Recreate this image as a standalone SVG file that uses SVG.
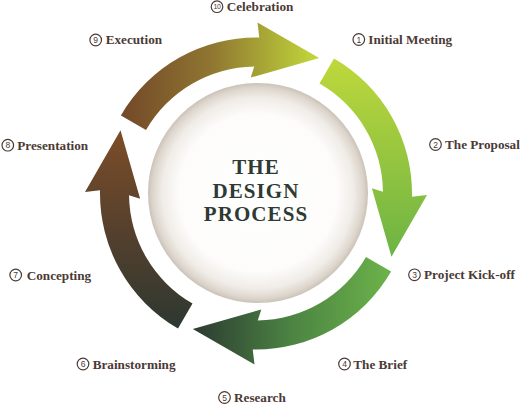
<svg xmlns="http://www.w3.org/2000/svg" xmlns:xlink="http://www.w3.org/1999/xlink" width="521" height="405" viewBox="0 0 521 405">
<defs>
  <linearGradient id="gTop" x1="0" y1="0" x2="0" y2="1">
    <stop offset="0" stop-color="#734828"/>
    <stop offset="0.45" stop-color="#8f7531"/>
    <stop offset="1" stop-color="#c2d93a"/>
  </linearGradient>
  <linearGradient id="gRight" x1="0" y1="0" x2="0" y2="1">
    <stop offset="0" stop-color="#bfd83b"/>
    <stop offset="1" stop-color="#6cb344"/>
  </linearGradient>
  <linearGradient id="gBottom" x1="0" y1="0" x2="0" y2="1">
    <stop offset="0" stop-color="#6cb34a"/>
    <stop offset="0.5" stop-color="#4c8443"/>
    <stop offset="1" stop-color="#2b3a31"/>
  </linearGradient>
  <linearGradient id="gLeft" x1="0" y1="0" x2="0" y2="1">
    <stop offset="0" stop-color="#2d3830"/>
    <stop offset="0.5" stop-color="#56402d"/>
    <stop offset="1" stop-color="#7c4d28"/>
  </linearGradient>
  <radialGradient id="gCircle" cx="0.5" cy="0.5" r="0.5">
    <stop offset="0" stop-color="#ffffff"/>
    <stop offset="0.72" stop-color="#fdfcfb"/>
    <stop offset="0.87" stop-color="#f0ece7"/>
    <stop offset="0.96" stop-color="#dcd5cc"/>
    <stop offset="1" stop-color="#cbc2b7"/>
  </radialGradient>
  <path id="arrow" d="M 334 58.4 A 156 156 0 0 1 411.97 196.77 L 426.99 194.99 L 391.49 256.68 L 371.88 188.24 L 382.99 191.73 A 127 127 0 0 0 319.5 83.5 Z"/>
</defs>
<style>
  .lbl { font-family: "Liberation Serif", "Times New Roman", serif; font-weight: bold; font-size: 13.2px; fill: #4b3a35; }
  .num { font-family: "Liberation Sans", Arial, sans-serif; font-size: 8.5px; fill: #4b3a35; text-anchor: middle; }
  .ring { fill: #ffffff; stroke: #4b3a35; stroke-width: 1.2; }
  .title { font-family: "Liberation Serif", "Times New Roman", serif; font-weight: bold; font-size: 21px; fill: #2e3a33; text-anchor: middle; letter-spacing: 1.1px; }
</style>
<rect x="0" y="0" width="521" height="405" fill="#ffffff"/>

<g id="connectors">
  <use href="#arrow" xlink:href="#arrow" fill="url(#gTop)" transform="rotate(-90 256 193.5)"/>
  <use href="#arrow" xlink:href="#arrow" fill="url(#gRight)"/>
  <use href="#arrow" xlink:href="#arrow" fill="url(#gBottom)" transform="rotate(90 256 193.5)"/>
  <use href="#arrow" xlink:href="#arrow" fill="url(#gLeft)" transform="rotate(180 256 193.5)"/>
</g>

<g id="center">
  <circle cx="258" cy="193" r="110" fill="url(#gCircle)"/>
  <text class="title" x="256" y="173.5">THE</text>
  <text class="title" x="256" y="197.5">DESIGN</text>
  <text class="title" x="256" y="221">PROCESS</text>
</g>

<g id="step1">
  <circle class="ring" cx="358.8" cy="39.5" r="5.8"/>
  <text class="num" x="358.8" y="42.5">1</text>
  <text class="lbl" x="368.3" y="44">Initial Meeting</text>
</g>
<g id="step2">
  <circle class="ring" cx="435.5" cy="144.5" r="5.8"/>
  <text class="num" x="435.5" y="147.5">2</text>
  <text class="lbl" x="445" y="149">The Proposal</text>
</g>
<g id="step3">
  <circle class="ring" cx="414.5" cy="274.8" r="5.8"/>
  <text class="num" x="414.5" y="277.8">3</text>
  <text class="lbl" x="424" y="279">Project Kick-off</text>
</g>
<g id="step4">
  <circle class="ring" cx="344.5" cy="364" r="5.8"/>
  <text class="num" x="344.5" y="367">4</text>
  <text class="lbl" x="353.3" y="368.5">The Brief</text>
</g>
<g id="step5">
  <circle class="ring" cx="224.5" cy="397.5" r="5.8"/>
  <text class="num" x="224.5" y="400.5">5</text>
  <text class="lbl" x="234" y="402">Research</text>
</g>
<g id="step6">
  <circle class="ring" cx="83" cy="364" r="5.8"/>
  <text class="num" x="83" y="367">6</text>
  <text class="lbl" x="92.7" y="368.5">Brainstorming</text>
</g>
<g id="step7">
  <circle class="ring" cx="15.7" cy="275" r="5.8"/>
  <text class="num" x="15.7" y="278">7</text>
  <text class="lbl" x="26.7" y="279.5">Concepting</text>
</g>
<g id="step8">
  <circle class="ring" cx="7.8" cy="145.2" r="5.8"/>
  <text class="num" x="7.8" y="148.2">8</text>
  <text class="lbl" x="17.3" y="149.5">Presentation</text>
</g>
<g id="step9">
  <circle class="ring" cx="95.7" cy="40" r="5.8"/>
  <text class="num" x="95.7" y="43">9</text>
  <text class="lbl" x="105.7" y="44.3">Execution</text>
</g>
<g id="step10">
  <circle class="ring" cx="217" cy="6.7" r="5.8"/>
  <text class="num" x="217" y="9.3" style="font-size:7px;letter-spacing:-0.3px">10</text>
  <text class="lbl" x="226.7" y="11">Celebration</text>
</g>
</svg>
